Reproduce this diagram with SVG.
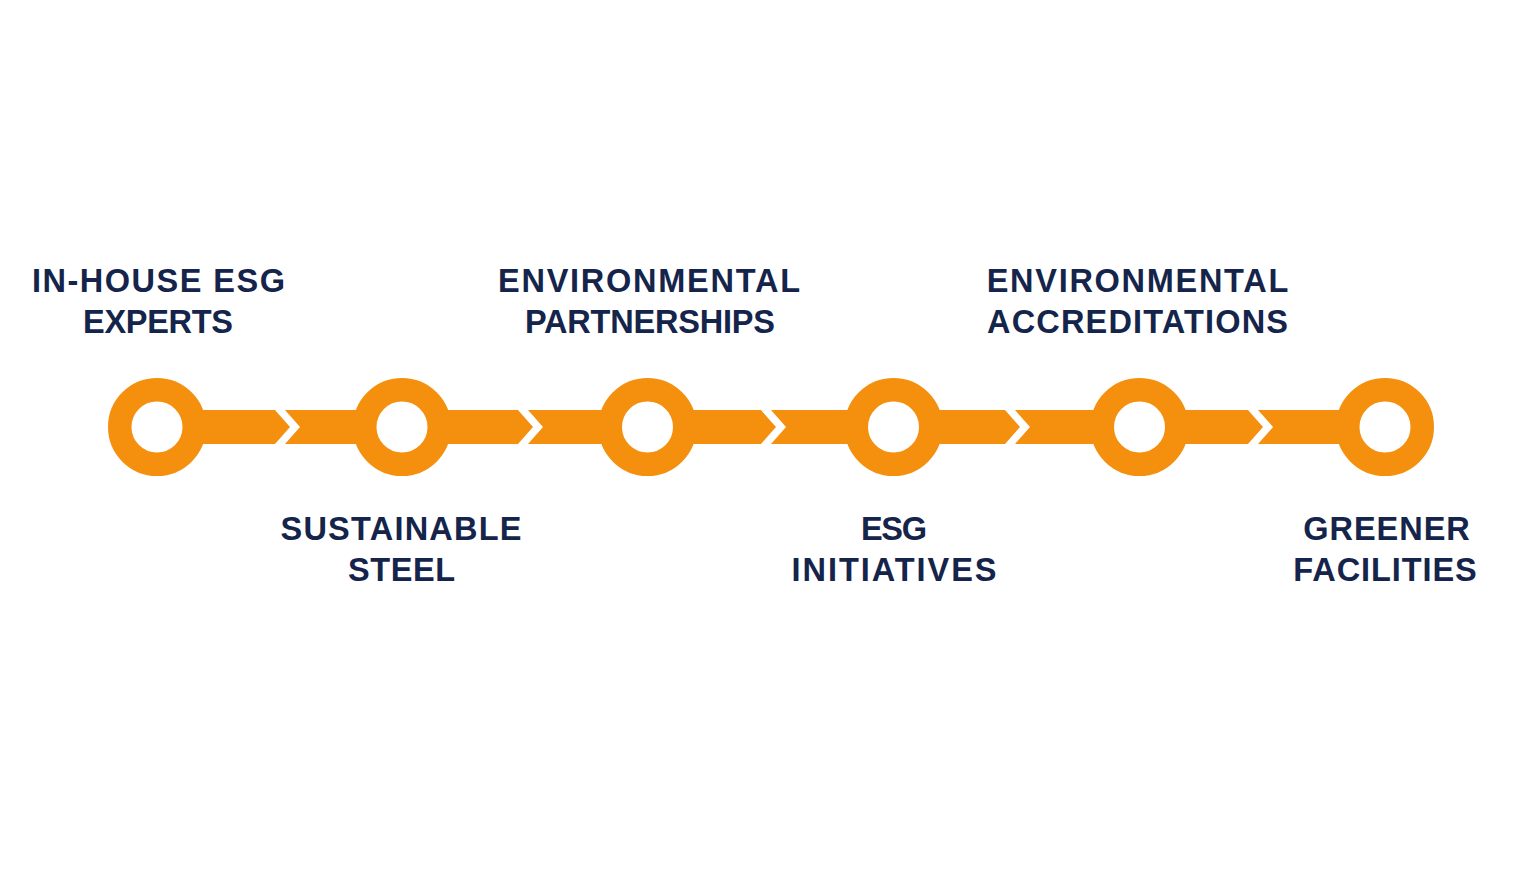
<svg xmlns="http://www.w3.org/2000/svg" width="1536" height="873" viewBox="0 0 1536 873">
<style>
.bar{fill:#F5900F}
.ring{fill:#FFFFFF;stroke:#F5900F;stroke-width:23.5}
.lbl{font-family:"Liberation Sans",Arial,sans-serif;font-weight:700;font-size:32.5px;fill:#15244A;text-anchor:middle}
</style>
<rect width="1536" height="873" fill="#FFFFFF"/>
<g id="connectors">
<polygon class="bar" points="157,410 275,410 290,427 275,444 157,444"/>
<polygon class="bar" points="285,410 518,410 533,427 518,444 285,444 300,427"/>
<polygon class="bar" points="528,410 761,410 776,427 761,444 528,444 543,427"/>
<polygon class="bar" points="771,410 1005,410 1020,427 1005,444 771,444 786,427"/>
<polygon class="bar" points="1015,410 1248,410 1263,427 1248,444 1015,444 1030,427"/>
<polygon class="bar" points="1258,410 1385,410 1385,444 1258,444 1273,427"/>
</g>
<g id="node1">
<circle class="ring" cx="157" cy="427" r="37.25"/>
<text class="lbl" x="158.5" y="292" textLength="253">IN-HOUSE ESG</text>
<text class="lbl" x="158" y="333" textLength="150">EXPERTS</text>
</g>
<g id="node2">
<circle class="ring" cx="402" cy="427" r="37.25"/>
<text class="lbl" x="401" y="540" textLength="241">SUSTAINABLE</text>
<text class="lbl" x="401.5" y="581" textLength="107">STEEL</text>
</g>
<g id="node3">
<circle class="ring" cx="647.5" cy="427" r="37.25"/>
<text class="lbl" x="649" y="292" textLength="302">ENVIRONMENTAL</text>
<text class="lbl" x="650" y="333" textLength="250">PARTNERSHIPS</text>
</g>
<g id="node4">
<circle class="ring" cx="893.5" cy="427" r="37.25"/>
<text class="lbl" x="894" y="540" textLength="66">ESG</text>
<text class="lbl" x="894" y="581" textLength="205">INITIATIVES</text>
</g>
<g id="node5">
<circle class="ring" cx="1139.5" cy="427" r="37.25"/>
<text class="lbl" x="1137.5" y="292" textLength="301.6">ENVIRONMENTAL</text>
<text class="lbl" x="1137.5" y="333" textLength="301">ACCREDITATIONS</text>
</g>
<g id="node6">
<circle class="ring" cx="1385" cy="427" r="37.25"/>
<text class="lbl" x="1386.5" y="540" textLength="166.7">GREENER</text>
<text class="lbl" x="1385" y="581" textLength="183.4">FACILITIES</text>
</g>
</svg>
